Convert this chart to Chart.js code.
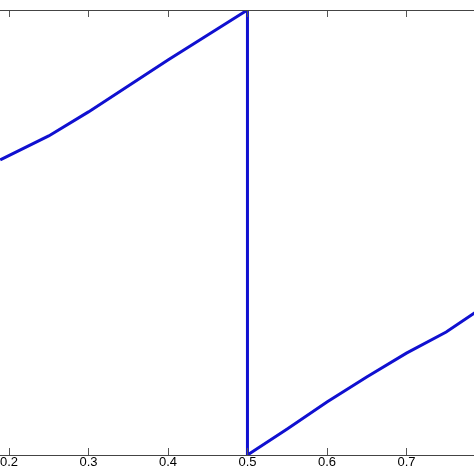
<!DOCTYPE html>
<html>
<head>
<script src="https://cdn.jsdelivr.net/npm/chart.js@4/dist/chart.umd.min.js"></script>
<style>
  html, body { margin: 0; padding: 0; background: #fff; overflow: hidden; width: 474px; height: 474px; }
  #wrap { position: absolute; left: -80px; top: 0; width: 634px; height: 490px; }
</style>
</head>
<body>
<div id="wrap"><canvas id="myChart"></canvas></div>
<script>
// sawtooth-like response
let xLeft = [0.189, 0.25, 0.3, 0.35, 0.4, 0.45, 0.5];
let yLeft = [0.326, 0.434, 0.542, 0.658, 0.775, 0.888, 1.0];
let xRight = [0.5, 0.5, 0.55, 0.6, 0.65, 0.7, 0.75, 0.7855, 0.8];
let yRight = [1.0, -1.0, -0.883, -0.762, -0.649, -0.542, -0.447, -0.362, -0.33];
let xTicks = [0.1, 0.2, 0.3, 0.4, 0.5, 0.6, 0.7, 0.8];

function toPoints(xs, ys){
    let pts = [];
    for(let i = 0; i < xs.length; i++){
        pts.push({x: xs[i], y: ys[i]});
    }
    return pts;
}

// inward tick marks like matlab
const inwardTicks = {
    id: 'inwardTicks',
    afterDraw(chart){
        const ctx = chart.ctx;
        const xs = chart.scales.x;
        const area = chart.chartArea;
        ctx.save();
        ctx.strokeStyle = '#555';
        ctx.lineWidth = 1;
        xTicks.forEach(function(t){
            const px = Math.round(xs.getPixelForValue(t)) + 0.5;
            ctx.beginPath();
            ctx.moveTo(px, area.bottom);
            ctx.lineTo(px, area.bottom - 7);
            ctx.moveTo(px, area.top);
            ctx.lineTo(px, area.top + 7);
            ctx.stroke();
        });
        ctx.strokeStyle = '#444';
        ctx.strokeRect(area.left + 0.5, area.top + 0.5, area.right - area.left - 1, area.bottom - area.top);
        ctx.restore();
    }
};

var ctx = document.getElementById("myChart").getContext('2d');
let config = {
    type: 'line',
    data: {
        datasets: [{
            data: toPoints(xLeft, yLeft).concat(toPoints(xRight, yRight)),
            borderColor: '#1010d0',
            borderWidth: 3,
            pointRadius: 0,
            tension: 0,
            fill: false
        }]
    },
    options: {
        responsive: true,
        maintainAspectRatio: false,
        animation: false,
        layout: {padding: {top: 10, left: 0, right: 0, bottom: 0}},
        plugins: {legend: {display: false}, tooltip: {enabled: false}},
        scales: {
            x: {
                type: 'linear',
                min: 0.0881,
                max: 0.8856,
                afterFit: function(s){ s.height = 35; },
                afterBuildTicks: function(s){ s.ticks = xTicks.map(function(v){ return {value: v}; }); },
                ticks: {
                    color: '#000',
                    font: {family: 'Arial, "Liberation Sans", sans-serif', size: 13},
                    padding: 0,
                    maxRotation: 0,
                    autoSkip: false,
                    callback: function(v){ return v.toFixed(1); }
                },
                grid: {display: true, drawOnChartArea: false, drawTicks: false},
                border: {display: false}
            },
            y: {
                display: false,
                min: -1,
                max: 1
            }
        }
    },
    plugins: [inwardTicks]
};
let myChart = new Chart(ctx, config);
</script>
</body>
</html>
